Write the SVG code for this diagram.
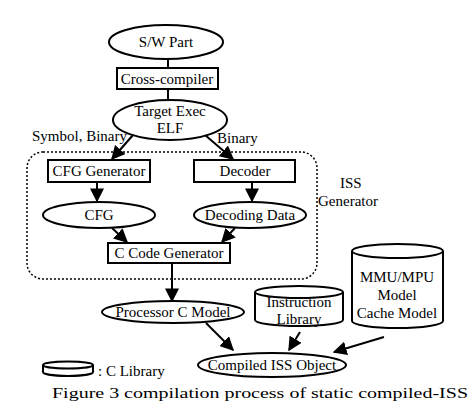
<svg xmlns="http://www.w3.org/2000/svg" width="474" height="404" viewBox="0 0 474 404">
<defs>
<marker id="ah" viewBox="0 0 10 10" refX="9" refY="5" markerWidth="7" markerHeight="7" orient="auto-start-reverse"><path d="M0,0 L10,5 L0,10 z" fill="#000"/></marker>
<style>
.n{fill:#fff;stroke:#000;stroke-width:2}
.t{font-family:"Liberation Serif","Times New Roman",serif;font-size:15px;fill:#000;text-anchor:middle}
.l{font-family:"Liberation Serif","Times New Roman",serif;font-size:15px;fill:#000}
.c{stroke:#000;stroke-width:2;fill:none}
.a{stroke:#000;stroke-width:2;fill:none;marker-end:url(#ah)}
</style>
</defs>
<rect width="474" height="404" fill="#fff"/>
<g id="iss-generator">
<rect x="27" y="152" width="290" height="127" rx="16" fill="none" stroke="#000" stroke-width="1.5" stroke-dasharray="2,2"/>
<text class="l" x="340" y="188">ISS</text>
<text class="l" x="318" y="206">Generator</text>
</g>
<g id="connectors">
<line class="c" x1="168" y1="59" x2="168" y2="68"/>
<line class="c" x1="168" y1="89" x2="168" y2="101"/>
<line class="a" x1="133" y1="135" x2="112" y2="159"/>
<line class="a" x1="205" y1="135" x2="233" y2="159"/>
<line class="a" x1="97" y1="182" x2="97" y2="201"/>
<line class="a" x1="252" y1="182" x2="252" y2="201"/>
<line class="a" x1="112" y1="228" x2="127" y2="242"/>
<line class="a" x1="235" y1="228" x2="222" y2="242"/>
<line class="a" x1="172" y1="263" x2="172" y2="301"/>
<line class="a" x1="206" y1="323" x2="233" y2="350"/>
<line class="a" x1="300" y1="332" x2="289" y2="350"/>
<line class="a" x1="384" y1="337" x2="334" y2="352"/>
</g>
<g id="sw-part">
<ellipse class="n" cx="166" cy="42" rx="57" ry="17"/>
<text class="t" x="166" y="47">S/W Part</text>
</g>
<g id="cross-compiler">
<rect class="n" x="117" y="68" width="101" height="21"/>
<text class="t" x="167" y="84">Cross-compiler</text>
</g>
<g id="target-exec-elf">
<ellipse class="n" cx="170" cy="120" rx="57" ry="20"/>
<text class="t" x="170" y="116">Target Exec</text>
<text class="t" x="170" y="133">ELF</text>
</g>
<g id="labels">
<text class="l" x="32" y="141">Symbol, Binary</text>
<text class="l" x="217" y="143">Binary</text>
</g>
<g id="cfg-generator">
<rect class="n" x="48" y="160" width="102" height="22"/>
<text class="t" x="99" y="176">CFG Generator</text>
</g>
<g id="decoder">
<rect class="n" x="194" y="160" width="101" height="22"/>
<text class="t" x="245" y="176">Decoder</text>
</g>
<g id="cfg">
<ellipse class="n" cx="99" cy="215" rx="56" ry="13"/>
<text class="t" x="99" y="220">CFG</text>
</g>
<g id="decoding-data">
<ellipse class="n" cx="250" cy="215" rx="56" ry="13"/>
<text class="t" x="250" y="220">Decoding Data</text>
</g>
<g id="c-code-generator">
<rect class="n" x="108" y="243" width="122" height="20"/>
<text class="t" x="169" y="258">C Code Generator</text>
</g>
<g id="processor-c-model">
<ellipse class="n" cx="173" cy="312" rx="71" ry="11"/>
<text class="t" x="173" y="317">Processor C Model</text>
</g>
<g id="instruction-library">
<path class="n" d="M255,292 L255,320 A44,6 0 0 0 343,320 L343,292"/>
<ellipse class="n" cx="299" cy="292" rx="44" ry="6"/>
<text class="t" x="299" y="307">Instruction</text>
<text class="t" x="299" y="324">Library</text>
</g>
<g id="mmu-mpu">
<path class="n" d="M352,251 L352,321 A45.5,7 0 0 0 443,321 L443,251"/>
<ellipse class="n" cx="397.5" cy="251" rx="45.5" ry="7"/>
<text class="t" x="397" y="282">MMU/MPU</text>
<text class="t" x="397" y="300">Model</text>
<text class="t" x="397" y="318">Cache Model</text>
</g>
<g id="compiled-iss-object">
<ellipse class="n" cx="272" cy="365" rx="74" ry="12"/>
<text class="t" x="272" y="370">Compiled ISS Object</text>
</g>
<g id="legend">
<path class="n" d="M43,365 L43,372 A25,4 0 0 0 93,372 L93,365"/>
<ellipse class="n" cx="68" cy="365" rx="25" ry="3.5"/>
<text class="l" x="98" y="376">: C Library</text>
</g>
<text class="l" x="52" y="398" font-size="17" textLength="416" lengthAdjust="spacingAndGlyphs">Figure 3 compilation process of static compiled-ISS</text>
</svg>
